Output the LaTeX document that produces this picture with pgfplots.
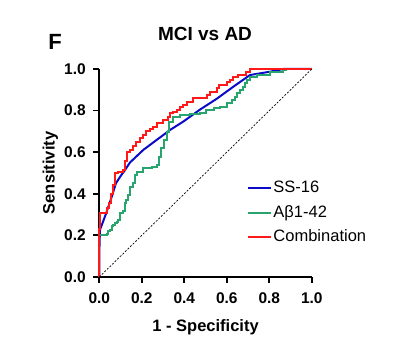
\documentclass[border=0pt]{standalone}
\usepackage{fontspec}
\setmainfont{Liberation Sans}
\usepackage{pgfplots}
\pgfplotsset{compat=1.18}
\definecolor{cblue}{RGB}{10,10,200}
\definecolor{cgreen}{RGB}{40,165,110}
\definecolor{cred}{RGB}{255,25,25}
\begin{document}
\begin{tikzpicture}
\useasboundingbox (-99.3pt,-75pt) rectangle (300.7pt,277pt);
\begin{axis}[
  at={(0pt,0pt)}, anchor=south west,
  scale only axis, width=212.5pt, height=208pt,
  xmin=0, xmax=1, ymin=0, ymax=1,
  axis lines=left,
  axis line style={-, line width=1.8pt, black},
  tick style={line width=1.8pt, black},
  tick align=outside, major tick length=6pt,
  xtick={0,0.2,0.4,0.6,0.8,1.0},
  ytick={0,0.2,0.4,0.6,0.8,1.0},
  /pgf/number format/assume math mode=true,
  /pgf/number format/.cd, fixed, fixed zerofill, precision=1, /pgfplots/.cd,
  ticklabel style={font=\bfseries\fontsize{15.5}{16}\selectfont},
  xticklabel style={yshift=-6pt},
  yticklabel style={xshift=-4pt},
  xlabel={1 - Specificity},
  ylabel={Sensitivity},
  label style={font=\bfseries\fontsize{16.5}{18}\selectfont},
  xlabel style={at={(axis description cs:0.5,-0.24)}, anchor=center},
  ylabel style={at={(axis description cs:-0.23,0.5)}, anchor=center},
  legend cell align=left,
  legend style={draw=none, fill=none, inner sep=0pt, outer sep=0pt,
    at={(axis description cs:0.695,0.47)}, anchor=north west,
    font=\fontsize{16.5}{18}\selectfont,
    nodes={inner sep=1.5pt, text height=12pt, text depth=3.5pt},
    row sep=6pt},
  legend image code/.code={\draw[#1, line width=2pt] (0pt,0pt) -- (23pt,0pt);},
  clip=false,
]
\addplot[cblue, line width=2pt] coordinates {
(0,0) (0,0.11) (0.003,0.226) (0.03,0.30) (0.06,0.39) (0.078,0.45) (0.1,0.485)
(0.121,0.514) (0.144,0.55) (0.207,0.611) (0.27,0.659) (0.333,0.707)
(0.395,0.747) (0.474,0.805) (0.55,0.855) (0.631,0.915) (0.709,0.971)
(0.803,0.987) (0.867,1.0) (1,1)};
\addlegendentry{SS-16}
\addplot[cgreen, line width=2pt, const plot] coordinates {
(0,0) (0,0.2) (0.027,0.2) (0.035,0.205) (0.042,0.219) (0.05,0.225) (0.058,0.243)
(0.066,0.25) (0.074,0.259) (0.082,0.265) (0.089,0.275) (0.097,0.307) (0.113,0.315)
(0.121,0.355) (0.128,0.37) (0.136,0.395) (0.144,0.435) (0.16,0.451) (0.17,0.49)
(0.176,0.506) (0.207,0.522) (0.246,0.53) (0.27,0.538) (0.28,0.578) (0.29,0.619)
(0.305,0.659) (0.318,0.699) (0.33,0.747) (0.345,0.771) (0.38,0.779) (0.427,0.785)
(0.474,0.79) (0.5,0.803) (0.54,0.811) (0.568,0.819) (0.6,0.835) (0.625,0.851) (0.639,0.867) (0.65,0.883) (0.662,0.899)
(0.674,0.915) (0.686,0.931) (0.697,0.947) (0.709,0.963) (0.741,0.971) (0.803,0.987) (0.866,0.995) (0.88,1) (1,1)};
\addlegendentry{Aβ1-42}
\addplot[cred, line width=2pt] coordinates {
(0,0) (0,0.23) (0.005,0.23) (0.005,0.306) (0.034,0.306) (0.034,0.33) (0.045,0.33)
(0.045,0.354) (0.055,0.354) (0.055,0.40) (0.066,0.40) (0.066,0.442) (0.075,0.442)
(0.075,0.50) (0.089,0.50) (0.089,0.506) (0.113,0.506) (0.113,0.514) (0.12,0.514)
(0.12,0.56) (0.13,0.56) (0.13,0.60) (0.144,0.60) (0.144,0.61) (0.16,0.61)
(0.16,0.63) (0.175,0.63) (0.175,0.65) (0.192,0.65) (0.192,0.668) (0.205,0.668)
(0.205,0.683) (0.22,0.683) (0.22,0.70) (0.239,0.70) (0.239,0.71) (0.255,0.71)
(0.255,0.72) (0.27,0.72) (0.27,0.739) (0.30,0.739) (0.30,0.755) (0.325,0.755)
(0.325,0.771) (0.335,0.771) (0.335,0.787) (0.348,0.787) (0.348,0.795) (0.365,0.795)
(0.365,0.803) (0.38,0.803) (0.38,0.815) (0.395,0.815) (0.395,0.827) (0.411,0.827)
(0.411,0.843) (0.442,0.843) (0.442,0.859) (0.505,0.859) (0.505,0.875) (0.52,0.875)
(0.52,0.891) (0.553,0.891) (0.553,0.907) (0.565,0.907) (0.565,0.923) (0.60,0.923)
(0.60,0.939) (0.615,0.939) (0.615,0.947) (0.631,0.947) (0.631,0.963) (0.654,0.963)
(0.654,0.971) (0.69,0.971) (0.69,0.987) (0.71,0.987) (0.71,1.0) (1,1)};
\addlegendentry{Combination}
\addplot[black, dash pattern=on 2pt off 1.6pt, line width=0.7pt, forget plot] coordinates {(0,0) (1,1)};
\end{axis}
\node[font=\bfseries\fontsize{19}{20}\selectfont, anchor=center] at (105.7pt,243pt) {MCI vs AD};
\node[font=\bfseries\fontsize{22}{24}\selectfont, anchor=center] at (-44.3pt,235.5pt) {F};
\end{tikzpicture}
\end{document}
